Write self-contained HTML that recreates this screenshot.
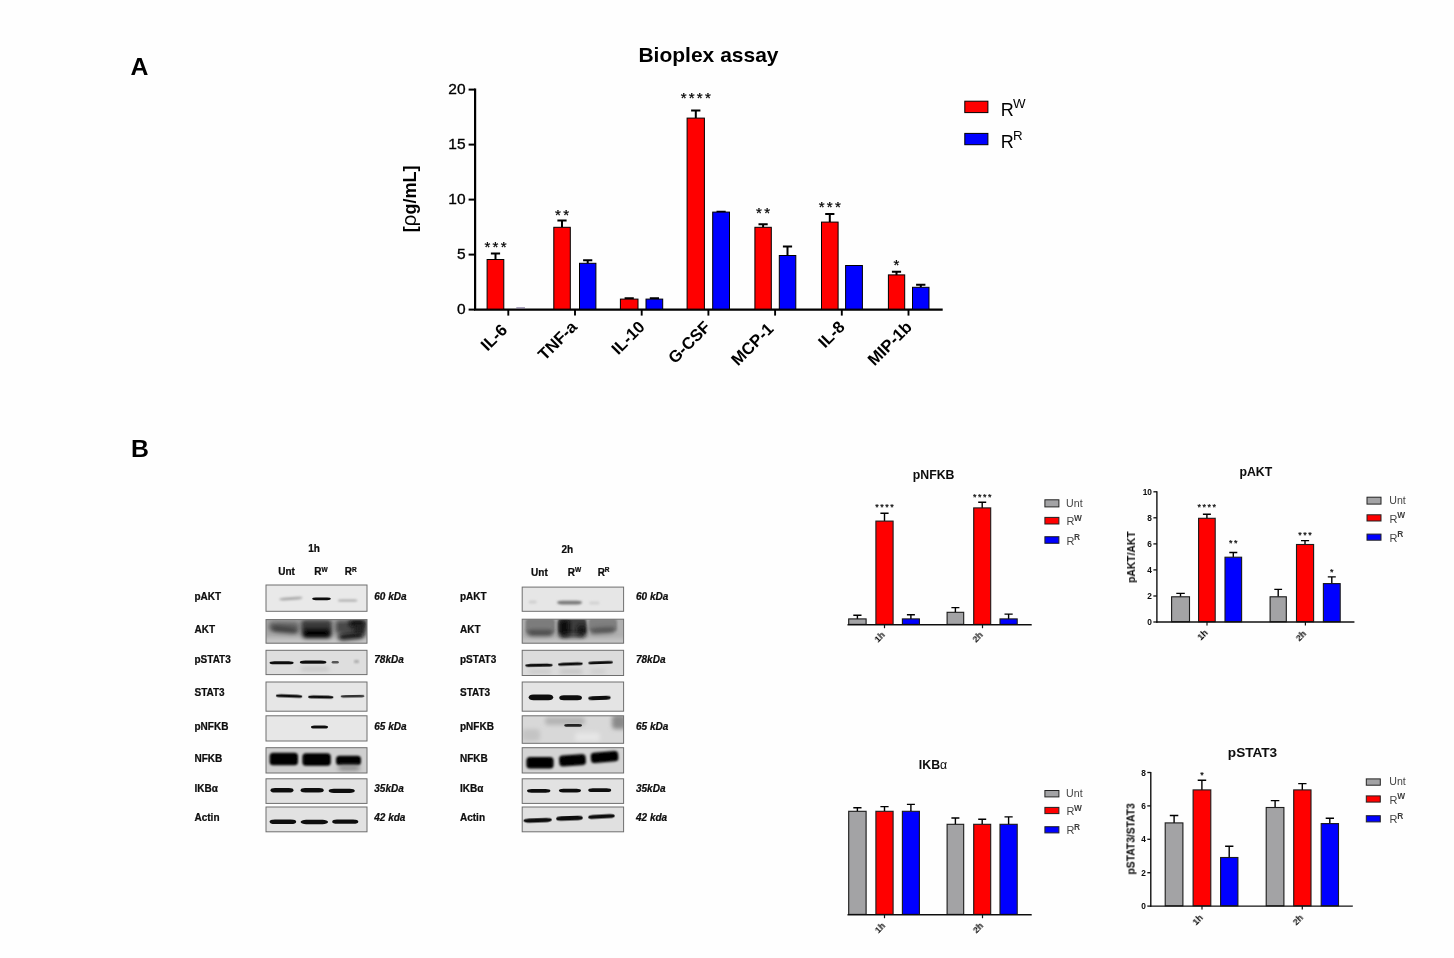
<!DOCTYPE html>
<html lang="en">
<head>
<meta charset="utf-8">
<title>Figure</title>
<style>
html,body{margin:0;padding:0;background:#fff;}
body{width:1454px;height:958px;overflow:hidden;font-family:'Liberation Sans', sans-serif;}
svg{display:block}
svg text{font-family:"Liberation Sans",sans-serif;}
</style>
</head>
<body>
<svg width="1454" height="958" viewBox="0 0 1454 958">
<rect width="1454" height="958" fill="#fefefe"/>
<defs><filter id="sa" x="-2%" y="-2%" width="104%" height="104%"><feGaussianBlur stdDeviation="0.4"/></filter><filter id="sb" x="-2%" y="-2%" width="104%" height="104%"><feGaussianBlur stdDeviation="0.35"/></filter></defs>
<g id="panelA" filter="url(#sa)">
<text x="130.6" y="75.0" font-size="24.8" font-weight="bold" text-anchor="start" fill="#000">A</text>
<text x="708.5" y="61.6" font-size="21" font-weight="bold" text-anchor="middle" fill="#000">Bioplex assay</text>
<path d="M475.1 88.5V310.70000000000005M474.1 309.6H942.7" stroke="#000" stroke-width="2.2" fill="none"/>
<path d="M468.6 309.6H475.1" stroke="#000" stroke-width="2"/>
<text x="465.6" y="313.8" font-size="15.5" font-weight="normal" text-anchor="end" fill="#000" stroke="#000" stroke-width="0.35">0</text>
<path d="M468.6 254.60000000000002H475.1" stroke="#000" stroke-width="2"/>
<text x="465.6" y="258.8" font-size="15.5" font-weight="normal" text-anchor="end" fill="#000" stroke="#000" stroke-width="0.35">5</text>
<path d="M468.6 199.60000000000002H475.1" stroke="#000" stroke-width="2"/>
<text x="465.6" y="203.8" font-size="15.5" font-weight="normal" text-anchor="end" fill="#000" stroke="#000" stroke-width="0.35">10</text>
<path d="M468.6 144.60000000000002H475.1" stroke="#000" stroke-width="2"/>
<text x="465.6" y="148.8" font-size="15.5" font-weight="normal" text-anchor="end" fill="#000" stroke="#000" stroke-width="0.35">15</text>
<path d="M468.6 89.60000000000002H475.1" stroke="#000" stroke-width="2"/>
<text x="465.6" y="93.8" font-size="15.5" font-weight="normal" text-anchor="end" fill="#000" stroke="#000" stroke-width="0.35">20</text>
<text x="416.4" y="198.8" font-size="18" font-weight="bold" text-anchor="middle" fill="#000" transform="rotate(-90 416.4 198.8)">[<tspan font-weight="normal" font-size="20.5">ρ</tspan>g/mL]</text>
<path d="M508.3 309.6V315.6" stroke="#000" stroke-width="1.9"/>
<path d="M495.5 259.5V253.5M490.9 253.5H500.1" stroke="#000" stroke-width="2.0" fill="none"/><rect x="487.1" y="259.5" width="16.7" height="49.6" fill="#ff0000" stroke="#000" stroke-width="1.0"/>
<path d="M516.3 307.9H525.0" stroke="#6a5a8a" stroke-width="0.9"/>
<text x="484.5" y="252.1" font-size="15" letter-spacing="2.24" stroke="#000" stroke-width="0.25">***</text>
<text x="508.3" y="331.0" font-size="16.6" font-weight="bold" text-anchor="end" fill="#000" transform="rotate(-45 508.3 331.0)">IL-6</text>
<path d="M575.0 309.6V315.6" stroke="#000" stroke-width="1.9"/>
<path d="M562.0 227.3V220.5M557.4 220.5H566.6" stroke="#000" stroke-width="2.0" fill="none"/><rect x="553.8" y="227.3" width="16.5" height="81.8" fill="#ff0000" stroke="#000" stroke-width="1.0"/>
<path d="M587.7 263.3V260.2M583.1 260.2H592.3" stroke="#000" stroke-width="2.0" fill="none"/><rect x="579.5" y="263.3" width="16.4" height="45.8" fill="#0000ff" stroke="#000" stroke-width="1.0"/>
<text x="555.1" y="219.8" font-size="15" letter-spacing="2.24" stroke="#000" stroke-width="0.25">**</text>
<text x="578.0" y="328.0" font-size="16.6" font-weight="bold" text-anchor="end" fill="#000" transform="rotate(-45 578.0 328.0)">TNF-a</text>
<path d="M641.7 309.6V315.6" stroke="#000" stroke-width="1.9"/>
<path d="M629.2 299.1V298.3M624.6 298.3H633.8" stroke="#000" stroke-width="2.0" fill="none"/><rect x="620.4" y="299.1" width="17.6" height="10.0" fill="#ff0000" stroke="#000" stroke-width="1.0"/>
<path d="M654.4 299.1V298.3M649.8 298.3H659.0" stroke="#000" stroke-width="2.0" fill="none"/><rect x="646.0" y="299.1" width="16.7" height="10.0" fill="#0000ff" stroke="#000" stroke-width="1.0"/>
<text x="645.7" y="328.0" font-size="16.6" font-weight="bold" text-anchor="end" fill="#000" transform="rotate(-45 645.7 328.0)">IL-10</text>
<path d="M708.4 309.6V315.6" stroke="#000" stroke-width="1.9"/>
<path d="M695.8 118.1V110.5M691.1 110.5H700.4" stroke="#000" stroke-width="2.0" fill="none"/><rect x="687.1" y="118.1" width="17.3" height="191.0" fill="#ff0000" stroke="#000" stroke-width="1.0"/>
<path d="M721.1 212.1V211.8M716.5 211.8H725.7" stroke="#000" stroke-width="2.0" fill="none"/><rect x="712.7" y="212.1" width="16.8" height="97.0" fill="#0000ff" stroke="#000" stroke-width="1.0"/>
<text x="680.7" y="103.2" font-size="15" letter-spacing="2.24" stroke="#000" stroke-width="0.25">****</text>
<text x="711.4" y="328.0" font-size="16.6" font-weight="bold" text-anchor="end" fill="#000" transform="rotate(-45 711.4 328.0)">G-CSF</text>
<path d="M775.1 309.6V315.6" stroke="#000" stroke-width="1.9"/>
<path d="M763.1 227.3V224.3M758.5 224.3H767.7" stroke="#000" stroke-width="2.0" fill="none"/><rect x="754.9" y="227.3" width="16.4" height="81.8" fill="#ff0000" stroke="#000" stroke-width="1.0"/>
<path d="M787.5 255.5V246.4M782.9 246.4H792.1" stroke="#000" stroke-width="2.0" fill="none"/><rect x="779.3" y="255.5" width="16.5" height="53.6" fill="#0000ff" stroke="#000" stroke-width="1.0"/>
<text x="756.1" y="217.7" font-size="15" letter-spacing="2.24" stroke="#000" stroke-width="0.25">**</text>
<text x="774.6" y="330.0" font-size="16.6" font-weight="bold" text-anchor="end" fill="#000" transform="rotate(-45 774.6 330.0)">MCP-1</text>
<path d="M841.8 309.6V315.6" stroke="#000" stroke-width="1.9"/>
<path d="M829.8 222.1V214.0M825.2 214.0H834.4" stroke="#000" stroke-width="2.0" fill="none"/><rect x="821.5" y="222.1" width="16.6" height="87.0" fill="#ff0000" stroke="#000" stroke-width="1.0"/>
<rect x="845.6" y="265.5" width="16.8" height="43.6" fill="#0000ff" stroke="#000" stroke-width="1.0"/>
<text x="818.8" y="211.8" font-size="15" letter-spacing="2.24" stroke="#000" stroke-width="0.25">***</text>
<text x="845.8" y="328.0" font-size="16.6" font-weight="bold" text-anchor="end" fill="#000" transform="rotate(-45 845.8 328.0)">IL-8</text>
<path d="M908.5 309.6V315.6" stroke="#000" stroke-width="1.9"/>
<path d="M896.5 274.9V271.8M891.9 271.8H901.1" stroke="#000" stroke-width="2.0" fill="none"/><rect x="888.4" y="274.9" width="16.3" height="34.2" fill="#ff0000" stroke="#000" stroke-width="1.0"/>
<path d="M920.8 287.3V284.8M916.1 284.8H925.4" stroke="#000" stroke-width="2.0" fill="none"/><rect x="912.5" y="287.3" width="16.5" height="21.8" fill="#0000ff" stroke="#000" stroke-width="1.0"/>
<text x="893.6" y="270.2" font-size="15" letter-spacing="2.24" stroke="#000" stroke-width="0.25">*</text>
<text x="913.0" y="328.0" font-size="16.6" font-weight="bold" text-anchor="end" fill="#000" transform="rotate(-45 913.0 328.0)">MIP-1b</text>
<rect x="964.8" y="101.2" width="23.1" height="11.4" fill="#ff0000" stroke="#000" stroke-width="1"/>
<rect x="964.8" y="133.4" width="23.1" height="11.3" fill="#0000ff" stroke="#000" stroke-width="1"/>
<text x="1000.8" y="116.1" font-size="18">R<tspan font-size="13.3" dy="-8.0" dx="-0.8">W</tspan></text>
<text x="1000.8" y="148.4" font-size="18">R<tspan font-size="13.3" dy="-8.4" dx="-0.8">R</tspan></text>
</g>
<defs>
<filter id="b1" x="-20%" y="-200%" width="140%" height="500%"><feGaussianBlur stdDeviation="0.7"/></filter>
<filter id="b2" x="-20%" y="-200%" width="140%" height="500%"><feGaussianBlur stdDeviation="1.2"/></filter>
<filter id="b3" x="-30%" y="-200%" width="160%" height="500%"><feGaussianBlur stdDeviation="2.2"/></filter>
<filter id="tb" x="-5%" y="-20%" width="110%" height="140%"><feGaussianBlur stdDeviation="0.12"/></filter>
</defs>
<g id="panelB" filter="url(#sb)">
<text x="130.9" y="457.0" font-size="24.8" font-weight="bold" text-anchor="start" fill="#000">B</text>
<clipPath id="c1"><rect x="266.0" y="585.0" width="101.0" height="26.3"/></clipPath><rect x="266.0" y="585.0" width="101.0" height="26.3" fill="#e9e9e9"/><g clip-path="url(#c1)"><rect x="279.4" y="597.5" width="23.0" height="2.2" rx="4.6" ry="1.10" fill="#9a9a9a" filter="url(#b2)" transform="rotate(-4 290.9 598.6)"/><rect x="312.2" y="597.4" width="18.6" height="2.8" rx="3.7" ry="1.40" fill="#0a0a0a" filter="url(#b1)"/><rect x="337.9" y="599.6" width="19.5" height="2.0" rx="3.9" ry="1.00" fill="#a8a8a8" filter="url(#b2)"/></g><rect x="266.0" y="585.0" width="101.0" height="26.3" fill="none" stroke="#6e6e6e" stroke-width="1"/>
<clipPath id="c2"><rect x="266.0" y="619.6" width="101.0" height="23.6"/></clipPath><rect x="266.0" y="619.6" width="101.0" height="23.6" fill="#a6a6a6"/><g clip-path="url(#c2)"><rect x="264" y="637.5" width="106" height="8" fill="#c6c6c6" filter="url(#b3)"/><rect x="269.0" y="621.5" width="30.0" height="9.0" rx="3.5" fill="#6a6a6a" filter="url(#b3)"/><rect x="271.0" y="626.5" width="27.5" height="6.0" rx="5.5" ry="3.00" fill="#3c3c3c" filter="url(#b3)" transform="rotate(6 284.8 629.5)"/><rect x="301.0" y="620.0" width="31.0" height="12.0" rx="3.5" fill="#3a3a3a" filter="url(#b3)"/><rect x="302.5" y="629.0" width="28.5" height="9.0" rx="3.5" fill="#050505" filter="url(#b3)"/><rect x="335.5" y="620.5" width="30.5" height="13.0" rx="3.5" fill="#4a4a4a" filter="url(#b3)"/><rect x="338.0" y="632.8" width="26.0" height="6.5" rx="5.2" ry="3.25" fill="#0a0a0a" filter="url(#b3)" transform="rotate(-6 351.0 636.0)"/><rect x="349.0" y="620.0" width="16.0" height="7.0" rx="3.5" fill="#0a0a0a" filter="url(#b3)"/><rect x="354.0" y="624.0" width="10.0" height="10.0" rx="3.5" fill="#222" filter="url(#b3)"/></g><rect x="266.0" y="619.6" width="101.0" height="23.6" fill="none" stroke="#6e6e6e" stroke-width="1"/>
<clipPath id="c3"><rect x="266.0" y="650.3" width="101.0" height="24.3"/></clipPath><rect x="266.0" y="650.3" width="101.0" height="24.3" fill="#dedede"/><g clip-path="url(#c3)"><rect x="269.6" y="661.2" width="24.0" height="3.0" rx="4.8" ry="1.50" fill="#111" filter="url(#b1)"/><rect x="299.8" y="660.6" width="26.6" height="3.2" rx="5.3" ry="1.60" fill="#111" filter="url(#b1)"/><rect x="331.7" y="661.0" width="7.1" height="2.4" rx="1.4" ry="1.20" fill="#555" filter="url(#b1)"/><rect x="354.0" y="660.0" width="5.0" height="3.0" rx="1.0" ry="1.50" fill="#aaa" filter="url(#b2)"/><rect x="300.0" y="667.0" width="30.0" height="4.0" rx="6.0" ry="2.00" fill="#c4c4c4" filter="url(#b3)"/></g><rect x="266.0" y="650.3" width="101.0" height="24.3" fill="none" stroke="#6e6e6e" stroke-width="1"/>
<clipPath id="c4"><rect x="266.0" y="682.0" width="101.0" height="29.2"/></clipPath><rect x="266.0" y="682.0" width="101.0" height="29.2" fill="#e6e6e6"/><g clip-path="url(#c4)"><rect x="275.8" y="694.4" width="26.6" height="3.2" rx="5.3" ry="1.60" fill="#111" filter="url(#b1)" transform="rotate(2 289.1 696.0)"/><rect x="308.0" y="695.4" width="25.5" height="3.2" rx="5.1" ry="1.60" fill="#111" filter="url(#b1)" transform="rotate(1 320.8 697.0)"/><rect x="340.6" y="695.1" width="23.9" height="2.4" rx="4.8" ry="1.20" fill="#333" filter="url(#b1)" transform="rotate(-1 352.6 696.3)"/></g><rect x="266.0" y="682.0" width="101.0" height="29.2" fill="none" stroke="#6e6e6e" stroke-width="1"/>
<clipPath id="c5"><rect x="266.0" y="715.8" width="101.0" height="25.2"/></clipPath><rect x="266.0" y="715.8" width="101.0" height="25.2" fill="#e7e7e7"/><g clip-path="url(#c5)"><rect x="311.0" y="725.5" width="17.0" height="3.0" rx="3.4" ry="1.50" fill="#111" filter="url(#b1)"/></g><rect x="266.0" y="715.8" width="101.0" height="25.2" fill="none" stroke="#6e6e6e" stroke-width="1"/>
<clipPath id="c6"><rect x="266.0" y="747.7" width="101.0" height="25.3"/></clipPath><rect x="266.0" y="747.7" width="101.0" height="25.3" fill="#cfcfcf"/><g clip-path="url(#c6)"><rect x="269.6" y="752.8" width="28.4" height="12.5" rx="3.5" fill="#000" filter="url(#b2)"/><rect x="302.4" y="753.2" width="28.4" height="12.5" rx="3.5" fill="#000" filter="url(#b2)"/><rect x="336.0" y="755.8" width="25.0" height="9.5" rx="3.5" fill="#000" filter="url(#b2)"/><rect x="338.0" y="765.5" width="22.0" height="5.0" rx="4.4" ry="2.50" fill="#888" filter="url(#b3)"/></g><rect x="266.0" y="747.7" width="101.0" height="25.3" fill="none" stroke="#6e6e6e" stroke-width="1"/>
<clipPath id="c7"><rect x="266.0" y="778.8" width="101.0" height="24.6"/></clipPath><rect x="266.0" y="778.8" width="101.0" height="24.6" fill="#e2e2e2"/><g clip-path="url(#c7)"><rect x="270.5" y="788.0" width="23.0" height="4.6" rx="4.6" ry="2.30" fill="#111" filter="url(#b1)"/><rect x="300.6" y="788.1" width="23.1" height="4.4" rx="4.6" ry="2.20" fill="#111" filter="url(#b1)"/><rect x="328.7" y="788.7" width="26.1" height="4.2" rx="5.2" ry="2.10" fill="#111" filter="url(#b1)"/></g><rect x="266.0" y="778.8" width="101.0" height="24.6" fill="none" stroke="#6e6e6e" stroke-width="1"/>
<clipPath id="c8"><rect x="266.0" y="807.0" width="101.0" height="24.8"/></clipPath><rect x="266.0" y="807.0" width="101.0" height="24.8" fill="#e2e2e2"/><g clip-path="url(#c8)"><rect x="269.6" y="819.4" width="26.6" height="4.6" rx="5.3" ry="2.30" fill="#111" filter="url(#b1)"/><rect x="300.6" y="819.8" width="27.5" height="4.4" rx="5.5" ry="2.20" fill="#111" filter="url(#b1)"/><rect x="332.2" y="819.6" width="26.1" height="4.2" rx="5.2" ry="2.10" fill="#111" filter="url(#b1)"/></g><rect x="266.0" y="807.0" width="101.0" height="24.8" fill="none" stroke="#6e6e6e" stroke-width="1"/>
<clipPath id="c9"><rect x="522.2" y="587.1" width="101.4" height="24.2"/></clipPath><rect x="522.2" y="587.1" width="101.4" height="24.2" fill="#e6e6e6"/><g clip-path="url(#c9)"><rect x="528.7" y="600.5" width="8.0" height="3.0" rx="1.6" ry="1.50" fill="#cfcfcf" filter="url(#b2)"/><rect x="557.1" y="600.8" width="24.9" height="3.6" rx="5.0" ry="1.80" fill="#777" filter="url(#b2)"/><rect x="589.0" y="601.5" width="10.7" height="3.0" rx="2.1" ry="1.50" fill="#d2d2d2" filter="url(#b2)"/></g><rect x="522.2" y="587.1" width="101.4" height="24.2" fill="none" stroke="#6e6e6e" stroke-width="1"/>
<clipPath id="c10"><rect x="522.2" y="619.2" width="101.4" height="24.0"/></clipPath><rect x="522.2" y="619.2" width="101.4" height="24.0" fill="#b0b0b0"/><g clip-path="url(#c10)"><rect x="520" y="638.5" width="106" height="7" fill="#c6c6c6" filter="url(#b3)"/><rect x="525.5" y="618.5" width="29.5" height="15.0" rx="3.5" fill="#7c7c7c" filter="url(#b2)"/><rect x="527.0" y="630.0" width="26.5" height="6.0" rx="5.3" ry="3.00" fill="#484848" filter="url(#b3)"/><rect x="558.5" y="618.5" width="28.0" height="15.0" rx="3.5" fill="#3c3c3c" filter="url(#b2)"/><rect x="559.0" y="619.5" width="10.5" height="17.0" rx="3.5" fill="#0a0a0a" filter="url(#b3)"/><rect x="577.5" y="625.0" width="8.5" height="11.0" rx="3.5" fill="#161616" filter="url(#b3)"/><rect x="560.0" y="633.0" width="25.0" height="4.0" rx="5.0" ry="2.00" fill="#1a1a1a" filter="url(#b3)"/><rect x="588.5" y="618.5" width="28.5" height="13.0" rx="3.5" fill="#808080" filter="url(#b2)"/><rect x="590.0" y="627.8" width="25.0" height="5.5" rx="5.0" ry="2.75" fill="#505050" filter="url(#b3)" transform="rotate(-4 602.5 630.5)"/></g><rect x="522.2" y="619.2" width="101.4" height="24.0" fill="none" stroke="#6e6e6e" stroke-width="1"/>
<clipPath id="c11"><rect x="522.2" y="650.3" width="101.4" height="25.2"/></clipPath><rect x="522.2" y="650.3" width="101.4" height="25.2" fill="#dcdcdc"/><g clip-path="url(#c11)"><rect x="525.2" y="663.7" width="27.5" height="3.0" rx="5.5" ry="1.50" fill="#111" filter="url(#b1)" transform="rotate(-1 539.0 665.2)"/><rect x="558.0" y="662.5" width="24.8" height="3.0" rx="5.0" ry="1.50" fill="#111" filter="url(#b1)" transform="rotate(-2 570.4 664.0)"/><rect x="588.2" y="661.3" width="24.8" height="2.8" rx="5.0" ry="1.40" fill="#111" filter="url(#b1)" transform="rotate(-2 600.6 662.7)"/><rect x="528.0" y="670.0" width="24.0" height="3.0" rx="4.8" ry="1.50" fill="#c2c2c2" filter="url(#b3)"/><rect x="559.0" y="669.8" width="24.0" height="3.5" rx="4.8" ry="1.75" fill="#bcbcbc" filter="url(#b3)"/><rect x="590.0" y="670.0" width="16.0" height="3.0" rx="3.2" ry="1.50" fill="#c6c6c6" filter="url(#b3)"/></g><rect x="522.2" y="650.3" width="101.4" height="25.2" fill="none" stroke="#6e6e6e" stroke-width="1"/>
<clipPath id="c12"><rect x="522.2" y="682.0" width="101.4" height="29.2"/></clipPath><rect x="522.2" y="682.0" width="101.4" height="29.2" fill="#e4e4e4"/><g clip-path="url(#c12)"><rect x="528.7" y="694.4" width="24.5" height="5.8" rx="4.9" ry="2.90" fill="#111" filter="url(#b1)"/><rect x="559.2" y="695.3" width="22.8" height="5.0" rx="4.6" ry="2.50" fill="#111" filter="url(#b1)"/><rect x="588.2" y="696.1" width="22.5" height="3.8" rx="4.5" ry="1.90" fill="#111" filter="url(#b1)" transform="rotate(-2 599.5 698.0)"/></g><rect x="522.2" y="682.0" width="101.4" height="29.2" fill="none" stroke="#6e6e6e" stroke-width="1"/>
<clipPath id="c13"><rect x="522.2" y="715.8" width="101.4" height="27.5"/></clipPath><rect x="522.2" y="715.8" width="101.4" height="27.5" fill="#d8d8d8"/><g clip-path="url(#c13)"><rect x="545.0" y="717.0" width="40.0" height="8.0" rx="3.5" fill="#b4b4b4" filter="url(#b3)"/><rect x="612.0" y="715.0" width="14.0" height="14.0" rx="3.5" fill="#8a8a8a" filter="url(#b3)"/><rect x="575.0" y="732.5" width="25.0" height="9.0" rx="3.5" fill="#e6e6e6" filter="url(#b3)"/><rect x="522.0" y="729.0" width="18.0" height="12.0" rx="3.5" fill="#c4c4c4" filter="url(#b3)"/><rect x="564.2" y="724.0" width="17.8" height="2.8" rx="3.6" ry="1.40" fill="#222" filter="url(#b1)"/></g><rect x="522.2" y="715.8" width="101.4" height="27.5" fill="none" stroke="#6e6e6e" stroke-width="1"/>
<clipPath id="c14"><rect x="522.2" y="747.7" width="101.4" height="25.3"/></clipPath><rect x="522.2" y="747.7" width="101.4" height="25.3" fill="#d4d4d4"/><g clip-path="url(#c14)"><rect x="526.4" y="757.0" width="27.2" height="11.5" rx="3.5" fill="#000" filter="url(#b2)"/><rect x="559.2" y="754.8" width="26.6" height="11.0" rx="3.5" fill="#000" filter="url(#b2)" transform="rotate(-4 572.5 760.3)"/><rect x="590.8" y="751.8" width="27.5" height="10.5" rx="3.5" fill="#000" filter="url(#b2)" transform="rotate(-5 604.5 757.0)"/></g><rect x="522.2" y="747.7" width="101.4" height="25.3" fill="none" stroke="#6e6e6e" stroke-width="1"/>
<clipPath id="c15"><rect x="522.2" y="778.8" width="101.4" height="24.6"/></clipPath><rect x="522.2" y="778.8" width="101.4" height="24.6" fill="#e2e2e2"/><g clip-path="url(#c15)"><rect x="527.0" y="788.9" width="23.4" height="3.8" rx="4.7" ry="1.90" fill="#111" filter="url(#b1)"/><rect x="558.9" y="788.7" width="22.1" height="3.8" rx="4.4" ry="1.90" fill="#111" filter="url(#b1)"/><rect x="588.2" y="788.3" width="23.0" height="3.8" rx="4.6" ry="1.90" fill="#111" filter="url(#b1)"/></g><rect x="522.2" y="778.8" width="101.4" height="24.6" fill="none" stroke="#6e6e6e" stroke-width="1"/>
<clipPath id="c16"><rect x="522.2" y="807.0" width="101.4" height="24.8"/></clipPath><rect x="522.2" y="807.0" width="101.4" height="24.8" fill="#e0e0e0"/><g clip-path="url(#c16)"><rect x="523.4" y="818.2" width="28.6" height="4.2" rx="5.7" ry="2.10" fill="#111" filter="url(#b1)" transform="rotate(-2 537.7 820.3)"/><rect x="556.2" y="816.0" width="26.6" height="4.4" rx="5.3" ry="2.20" fill="#111" filter="url(#b1)" transform="rotate(-2 569.5 818.2)"/><rect x="588.2" y="814.6" width="26.6" height="4.0" rx="5.3" ry="2.00" fill="#111" filter="url(#b1)" transform="rotate(-3 601.5 816.6)"/></g><rect x="522.2" y="807.0" width="101.4" height="24.8" fill="none" stroke="#6e6e6e" stroke-width="1"/>
<text x="194.5" y="600.1" font-size="10" font-weight="bold" text-anchor="start" fill="#0a0a0a" stroke="#0a0a0a" stroke-width="0.2">pAKT</text>
<text x="460.0" y="600.1" font-size="10" font-weight="bold" text-anchor="start" fill="#0a0a0a" stroke="#0a0a0a" stroke-width="0.2">pAKT</text>
<text x="374.3" y="600.1" font-size="10" font-weight="bold" text-anchor="start" fill="#0a0a0a" font-style="italic" stroke="#0a0a0a" stroke-width="0.2">60 kDa</text>
<text x="636.0" y="600.1" font-size="10" font-weight="bold" text-anchor="start" fill="#0a0a0a" font-style="italic" stroke="#0a0a0a" stroke-width="0.2">60 kDa</text>
<text x="194.5" y="633.2" font-size="10" font-weight="bold" text-anchor="start" fill="#0a0a0a" stroke="#0a0a0a" stroke-width="0.2">AKT</text>
<text x="460.0" y="633.2" font-size="10" font-weight="bold" text-anchor="start" fill="#0a0a0a" stroke="#0a0a0a" stroke-width="0.2">AKT</text>
<text x="194.5" y="663.1" font-size="10" font-weight="bold" text-anchor="start" fill="#0a0a0a" stroke="#0a0a0a" stroke-width="0.2">pSTAT3</text>
<text x="460.0" y="663.1" font-size="10" font-weight="bold" text-anchor="start" fill="#0a0a0a" stroke="#0a0a0a" stroke-width="0.2">pSTAT3</text>
<text x="374.3" y="663.1" font-size="10" font-weight="bold" text-anchor="start" fill="#0a0a0a" font-style="italic" stroke="#0a0a0a" stroke-width="0.2">78kDa</text>
<text x="636.0" y="663.1" font-size="10" font-weight="bold" text-anchor="start" fill="#0a0a0a" font-style="italic" stroke="#0a0a0a" stroke-width="0.2">78kDa</text>
<text x="194.5" y="695.8" font-size="10" font-weight="bold" text-anchor="start" fill="#0a0a0a" stroke="#0a0a0a" stroke-width="0.2">STAT3</text>
<text x="460.0" y="695.8" font-size="10" font-weight="bold" text-anchor="start" fill="#0a0a0a" stroke="#0a0a0a" stroke-width="0.2">STAT3</text>
<text x="194.5" y="730.0" font-size="10" font-weight="bold" text-anchor="start" fill="#0a0a0a" stroke="#0a0a0a" stroke-width="0.2">pNFKB</text>
<text x="460.0" y="730.0" font-size="10" font-weight="bold" text-anchor="start" fill="#0a0a0a" stroke="#0a0a0a" stroke-width="0.2">pNFKB</text>
<text x="374.3" y="730.0" font-size="10" font-weight="bold" text-anchor="start" fill="#0a0a0a" font-style="italic" stroke="#0a0a0a" stroke-width="0.2">65 kDa</text>
<text x="636.0" y="730.0" font-size="10" font-weight="bold" text-anchor="start" fill="#0a0a0a" font-style="italic" stroke="#0a0a0a" stroke-width="0.2">65 kDa</text>
<text x="194.5" y="761.8" font-size="10" font-weight="bold" text-anchor="start" fill="#0a0a0a" stroke="#0a0a0a" stroke-width="0.2">NFKB</text>
<text x="460.0" y="761.8" font-size="10" font-weight="bold" text-anchor="start" fill="#0a0a0a" stroke="#0a0a0a" stroke-width="0.2">NFKB</text>
<text x="194.5" y="792.1" font-size="10" font-weight="bold" text-anchor="start" fill="#0a0a0a" stroke="#0a0a0a" stroke-width="0.2">IKBα</text>
<text x="460.0" y="792.1" font-size="10" font-weight="bold" text-anchor="start" fill="#0a0a0a" stroke="#0a0a0a" stroke-width="0.2">IKBα</text>
<text x="374.3" y="792.1" font-size="10" font-weight="bold" text-anchor="start" fill="#0a0a0a" font-style="italic" stroke="#0a0a0a" stroke-width="0.2">35kDa</text>
<text x="636.0" y="792.1" font-size="10" font-weight="bold" text-anchor="start" fill="#0a0a0a" font-style="italic" stroke="#0a0a0a" stroke-width="0.2">35kDa</text>
<text x="194.5" y="820.9" font-size="10" font-weight="bold" text-anchor="start" fill="#0a0a0a" stroke="#0a0a0a" stroke-width="0.2">Actin</text>
<text x="460.0" y="820.9" font-size="10" font-weight="bold" text-anchor="start" fill="#0a0a0a" stroke="#0a0a0a" stroke-width="0.2">Actin</text>
<text x="374.3" y="820.9" font-size="10" font-weight="bold" text-anchor="start" fill="#0a0a0a" font-style="italic" stroke="#0a0a0a" stroke-width="0.2">42 kda</text>
<text x="636.0" y="820.9" font-size="10" font-weight="bold" text-anchor="start" fill="#0a0a0a" font-style="italic" stroke="#0a0a0a" stroke-width="0.2">42 kda</text>
<text x="314.0" y="552.2" font-size="10" font-weight="bold" text-anchor="middle" fill="#0a0a0a" stroke="#0a0a0a" stroke-width="0.2">1h</text>
<text x="567.4" y="552.8" font-size="10" font-weight="bold" text-anchor="middle" fill="#0a0a0a" stroke="#0a0a0a" stroke-width="0.2">2h</text>
<text x="286.5" y="575.3" font-size="10" font-weight="bold" text-anchor="middle" fill="#0a0a0a" stroke="#0a0a0a" stroke-width="0.2">Unt</text>
<text x="539.4" y="575.5" font-size="10" font-weight="bold" text-anchor="middle" fill="#0a0a0a" stroke="#0a0a0a" stroke-width="0.2">Unt</text>
<text x="321.0" y="575.3" font-size="10" font-weight="bold" text-anchor="middle" fill="#0a0a0a" stroke="#0a0a0a" stroke-width="0.2">R<tspan font-size="6.5" dy="-3.8">W</tspan></text>
<text x="350.7" y="575.3" font-size="10" font-weight="bold" text-anchor="middle" fill="#0a0a0a" stroke="#0a0a0a" stroke-width="0.2">R<tspan font-size="6.5" dy="-3.8">R</tspan></text>
<text x="574.5" y="575.5" font-size="10" font-weight="bold" text-anchor="middle" fill="#0a0a0a" stroke="#0a0a0a" stroke-width="0.2">R<tspan font-size="6.5" dy="-3.8">W</tspan></text>
<text x="603.6" y="575.5" font-size="10" font-weight="bold" text-anchor="middle" fill="#0a0a0a" stroke="#0a0a0a" stroke-width="0.2">R<tspan font-size="6.5" dy="-3.8">R</tspan></text>
<text x="933.6" y="478.9" font-size="12.3" font-weight="bold" text-anchor="middle" fill="#0a0a0a" filter="url(#tb)">pNFKB</text><path d="M857.4 618.9V615.2M853.3 615.2H861.5" stroke="#000" stroke-width="1.4" fill="none"/><rect x="848.7" y="618.9" width="17.4" height="5.5" fill="#a3a3a5" stroke="#1a1a1a" stroke-width="1.1"/><path d="M884.5 521.1V513.3M880.4 513.3H888.6" stroke="#000" stroke-width="1.4" fill="none"/><rect x="875.9" y="521.1" width="17.2" height="103.3" fill="#ff0000" stroke="#1a1a1a" stroke-width="1.1"/><text fill="#111" x="875.2" y="509.9" font-size="9" letter-spacing="1.50" stroke="#000" stroke-width="0.20">****</text><path d="M910.9 618.9V614.8M906.9 614.8H914.9" stroke="#000" stroke-width="1.4" fill="none"/><rect x="902.4" y="618.9" width="17.0" height="5.5" fill="#0000ff" stroke="#1a1a1a" stroke-width="1.1"/><path d="M955.4 612.3V607.6M951.4 607.6H959.4" stroke="#000" stroke-width="1.4" fill="none"/><rect x="947.1" y="612.3" width="16.6" height="12.1" fill="#a3a3a5" stroke="#1a1a1a" stroke-width="1.1"/><path d="M982.2 507.9V502.3M978.2 502.3H986.2" stroke="#000" stroke-width="1.4" fill="none"/><rect x="973.7" y="507.9" width="17.0" height="116.5" fill="#ff0000" stroke="#1a1a1a" stroke-width="1.1"/><text fill="#111" x="972.9" y="500.0" font-size="9" letter-spacing="1.50" stroke="#000" stroke-width="0.20">****</text><path d="M1008.6 618.9V614.1M1004.5 614.1H1012.7" stroke="#000" stroke-width="1.4" fill="none"/><rect x="1000.0" y="618.9" width="17.2" height="5.5" fill="#0000ff" stroke="#1a1a1a" stroke-width="1.1"/><path d="M847.5 624.7H1031.7" stroke="#111" stroke-width="1.4" fill="none"/><path d="M884.5 624.7V628.2" stroke="#111" stroke-width="1.2"/><text x="880.0" y="637.5" font-size="9" font-weight="bold" text-anchor="middle" fill="#0a0a0a" transform="rotate(-45 880.0 637.5)" filter="url(#tb)" dominant-baseline="central">1h</text><path d="M982.5 624.7V628.2" stroke="#111" stroke-width="1.2"/><text x="978.0" y="637.5" font-size="9" font-weight="bold" text-anchor="middle" fill="#0a0a0a" transform="rotate(-45 978.0 637.5)" filter="url(#tb)" dominant-baseline="central">2h</text><rect x="1044.9" y="499.8" width="14" height="7.1" fill="#a3a3a5" stroke="#222" stroke-width="1"/><text x="1066.1" y="506.8" font-size="10.6" font-weight="normal" text-anchor="start" fill="#454545" filter="url(#tb)">Unt</text><rect x="1044.9" y="517.4" width="14" height="6.6" fill="#ff0000" stroke="#222" stroke-width="1"/><text x="1066.4" y="525.3" font-size="11" fill="#454545" filter="url(#tb)">R<tspan font-size="8.3" font-weight="bold" fill="#3a3a3a" dy="-4.4" dx="-0.3">W</tspan></text><rect x="1044.9" y="536.7" width="14" height="6.6" fill="#0000ff" stroke="#222" stroke-width="1"/><text x="1066.4" y="544.6" font-size="11" fill="#454545" filter="url(#tb)">R<tspan font-size="8.3" font-weight="bold" fill="#3a3a3a" dy="-4.4" dx="-0.3">R</tspan></text>
<text x="1255.8" y="476.3" font-size="12.3" font-weight="bold" text-anchor="middle" fill="#0a0a0a" filter="url(#tb)">pAKT</text><path d="M1180.5 596.8V593.4M1176.3 593.4H1184.8" stroke="#000" stroke-width="1.4" fill="none"/><rect x="1171.6" y="596.8" width="17.9" height="24.9" fill="#a3a3a5" stroke="#1a1a1a" stroke-width="1.1"/><path d="M1206.9 518.3V514.2M1202.9 514.2H1210.9" stroke="#000" stroke-width="1.4" fill="none"/><rect x="1198.6" y="518.3" width="16.6" height="103.4" fill="#ff0000" stroke="#1a1a1a" stroke-width="1.1"/><text fill="#111" x="1197.6" y="510.1" font-size="9" letter-spacing="1.50" stroke="#000" stroke-width="0.20">****</text><path d="M1233.3 557.2V552.5M1229.3 552.5H1237.3" stroke="#000" stroke-width="1.4" fill="none"/><rect x="1225.0" y="557.2" width="16.6" height="64.5" fill="#0000ff" stroke="#1a1a1a" stroke-width="1.1"/><text fill="#111" x="1229.0" y="546.4" font-size="9" letter-spacing="1.50" stroke="#000" stroke-width="0.20">**</text><path d="M1278.2 596.8V589.4M1274.3 589.4H1282.1" stroke="#000" stroke-width="1.4" fill="none"/><rect x="1270.1" y="596.8" width="16.2" height="24.9" fill="#a3a3a5" stroke="#1a1a1a" stroke-width="1.1"/><path d="M1305.0 544.5V540.6M1301.0 540.6H1309.1" stroke="#000" stroke-width="1.4" fill="none"/><rect x="1296.5" y="544.5" width="17.1" height="77.2" fill="#ff0000" stroke="#1a1a1a" stroke-width="1.1"/><text fill="#111" x="1298.3" y="537.6" font-size="9" letter-spacing="1.50" stroke="#000" stroke-width="0.20">***</text><path d="M1331.8 583.6V576.9M1327.8 576.9H1335.8" stroke="#000" stroke-width="1.4" fill="none"/><rect x="1323.4" y="583.6" width="16.8" height="38.1" fill="#0000ff" stroke="#1a1a1a" stroke-width="1.1"/><text fill="#111" x="1330.0" y="575.0" font-size="9" letter-spacing="1.50" stroke="#000" stroke-width="0.20">*</text><path d="M1156.3 622.0H1354.4" stroke="#111" stroke-width="1.4" fill="none"/><path d="M1156.9 491.2V622.7" stroke="#111" stroke-width="1.4" fill="none"/><path d="M1153.4 622.0H1156.9" stroke="#111" stroke-width="1.3"/><text x="1151.9" y="625.0" font-size="8.3" font-weight="bold" text-anchor="end" fill="#0a0a0a" filter="url(#tb)">0</text><path d="M1153.4 596.0H1156.9" stroke="#111" stroke-width="1.3"/><text x="1151.9" y="599.0" font-size="8.3" font-weight="bold" text-anchor="end" fill="#0a0a0a" filter="url(#tb)">2</text><path d="M1153.4 569.9H1156.9" stroke="#111" stroke-width="1.3"/><text x="1151.9" y="572.9" font-size="8.3" font-weight="bold" text-anchor="end" fill="#0a0a0a" filter="url(#tb)">4</text><path d="M1153.4 543.9H1156.9" stroke="#111" stroke-width="1.3"/><text x="1151.9" y="546.9" font-size="8.3" font-weight="bold" text-anchor="end" fill="#0a0a0a" filter="url(#tb)">6</text><path d="M1153.4 517.8H1156.9" stroke="#111" stroke-width="1.3"/><text x="1151.9" y="520.8" font-size="8.3" font-weight="bold" text-anchor="end" fill="#0a0a0a" filter="url(#tb)">8</text><path d="M1153.4 491.8H1156.9" stroke="#111" stroke-width="1.3"/><text x="1151.9" y="494.8" font-size="8.3" font-weight="bold" text-anchor="end" fill="#0a0a0a" filter="url(#tb)">10</text><path d="M1207.0 622.0V625.5" stroke="#111" stroke-width="1.2"/><text x="1202.5" y="634.9" font-size="9" font-weight="bold" text-anchor="middle" fill="#0a0a0a" transform="rotate(-45 1202.5 634.9)" filter="url(#tb)" dominant-baseline="central">1h</text><path d="M1305.4 622.0V625.5" stroke="#111" stroke-width="1.2"/><text x="1300.9" y="636.0" font-size="9" font-weight="bold" text-anchor="middle" fill="#0a0a0a" transform="rotate(-45 1300.9 636.0)" filter="url(#tb)" dominant-baseline="central">2h</text><rect x="1367.0" y="497.2" width="14" height="6.9" fill="#a3a3a5" stroke="#222" stroke-width="1"/><text x="1389.3" y="504.0" font-size="10.6" font-weight="normal" text-anchor="start" fill="#454545" filter="url(#tb)">Unt</text><rect x="1367.0" y="514.8" width="14" height="6.2" fill="#ff0000" stroke="#222" stroke-width="1"/><text x="1389.6" y="522.5" font-size="11" fill="#454545" filter="url(#tb)">R<tspan font-size="8.3" font-weight="bold" fill="#3a3a3a" dy="-4.4" dx="-0.3">W</tspan></text><rect x="1367.0" y="534.1" width="14" height="6.1" fill="#0000ff" stroke="#222" stroke-width="1"/><text x="1389.6" y="541.8" font-size="11" fill="#454545" filter="url(#tb)">R<tspan font-size="8.3" font-weight="bold" fill="#3a3a3a" dy="-4.4" dx="-0.3">R</tspan></text><text x="1131.2" y="557.2" font-size="10.3" font-weight="bold" text-anchor="middle" fill="#0a0a0a" transform="rotate(-90 1131.2 557.2)" filter="url(#tb)" dominant-baseline="central">pAKT/AKT</text>
<text x="933.0" y="768.9" font-size="12.3" font-weight="bold" text-anchor="middle" fill="#0a0a0a" filter="url(#tb)">IKB<tspan font-weight="normal">α</tspan></text><path d="M857.4 811.3V807.7M853.3 807.7H861.5" stroke="#000" stroke-width="1.4" fill="none"/><rect x="848.7" y="811.3" width="17.4" height="103.1" fill="#a3a3a5" stroke="#1a1a1a" stroke-width="1.1"/><path d="M884.5 811.3V806.6M880.4 806.6H888.6" stroke="#000" stroke-width="1.4" fill="none"/><rect x="875.9" y="811.3" width="17.2" height="103.1" fill="#ff0000" stroke="#1a1a1a" stroke-width="1.1"/><path d="M910.9 811.3V804.4M906.9 804.4H914.9" stroke="#000" stroke-width="1.4" fill="none"/><rect x="902.4" y="811.3" width="17.0" height="103.1" fill="#0000ff" stroke="#1a1a1a" stroke-width="1.1"/><path d="M955.4 824.3V818.0M951.4 818.0H959.4" stroke="#000" stroke-width="1.4" fill="none"/><rect x="947.1" y="824.3" width="16.6" height="90.1" fill="#a3a3a5" stroke="#1a1a1a" stroke-width="1.1"/><path d="M982.2 824.3V819.3M978.2 819.3H986.2" stroke="#000" stroke-width="1.4" fill="none"/><rect x="973.7" y="824.3" width="17.0" height="90.1" fill="#ff0000" stroke="#1a1a1a" stroke-width="1.1"/><path d="M1008.6 824.3V816.9M1004.5 816.9H1012.7" stroke="#000" stroke-width="1.4" fill="none"/><rect x="1000.0" y="824.3" width="17.2" height="90.1" fill="#0000ff" stroke="#1a1a1a" stroke-width="1.1"/><path d="M847.5 914.7H1031.7" stroke="#111" stroke-width="1.4" fill="none"/><path d="M884.5 914.7V918.2" stroke="#111" stroke-width="1.2"/><text x="880.0" y="927.9" font-size="9" font-weight="bold" text-anchor="middle" fill="#0a0a0a" transform="rotate(-45 880.0 927.9)" filter="url(#tb)" dominant-baseline="central">1h</text><path d="M982.5 914.7V918.2" stroke="#111" stroke-width="1.2"/><text x="978.0" y="927.9" font-size="9" font-weight="bold" text-anchor="middle" fill="#0a0a0a" transform="rotate(-45 978.0 927.9)" filter="url(#tb)" dominant-baseline="central">2h</text><rect x="1044.9" y="790.5" width="14" height="6.4" fill="#a3a3a5" stroke="#222" stroke-width="1"/><text x="1066.1" y="797.1" font-size="10.6" font-weight="normal" text-anchor="start" fill="#454545" filter="url(#tb)">Unt</text><rect x="1044.9" y="807.4" width="14" height="6.2" fill="#ff0000" stroke="#222" stroke-width="1"/><text x="1066.4" y="815.1" font-size="11" fill="#454545" filter="url(#tb)">R<tspan font-size="8.3" font-weight="bold" fill="#3a3a3a" dy="-4.4" dx="-0.3">W</tspan></text><rect x="1044.9" y="826.7" width="14" height="6.2" fill="#0000ff" stroke="#222" stroke-width="1"/><text x="1066.4" y="834.4" font-size="11" fill="#454545" filter="url(#tb)">R<tspan font-size="8.3" font-weight="bold" fill="#3a3a3a" dy="-4.4" dx="-0.3">R</tspan></text>
<text x="1252.5" y="757.0" font-size="13.6" font-weight="bold" text-anchor="middle" fill="#0a0a0a" filter="url(#tb)">pSTAT3</text><path d="M1174.1 822.9V815.5M1169.8 815.5H1178.3" stroke="#000" stroke-width="1.4" fill="none"/><rect x="1165.2" y="822.9" width="17.7" height="82.9" fill="#a3a3a5" stroke="#1a1a1a" stroke-width="1.1"/><path d="M1201.9 789.9V780.3M1197.7 780.3H1206.2" stroke="#000" stroke-width="1.4" fill="none"/><rect x="1193.1" y="789.9" width="17.7" height="115.9" fill="#ff0000" stroke="#1a1a1a" stroke-width="1.1"/><text fill="#111" x="1200.2" y="778.0" font-size="9" letter-spacing="1.50" stroke="#000" stroke-width="0.20">*</text><path d="M1229.2 857.5V846.3M1225.1 846.3H1233.4" stroke="#000" stroke-width="1.4" fill="none"/><rect x="1220.6" y="857.5" width="17.3" height="48.3" fill="#0000ff" stroke="#1a1a1a" stroke-width="1.1"/><path d="M1275.1 807.5V800.6M1270.8 800.6H1279.3" stroke="#000" stroke-width="1.4" fill="none"/><rect x="1266.2" y="807.5" width="17.7" height="98.3" fill="#a3a3a5" stroke="#1a1a1a" stroke-width="1.1"/><path d="M1302.3 789.9V783.6M1298.2 783.6H1306.5" stroke="#000" stroke-width="1.4" fill="none"/><rect x="1293.7" y="789.9" width="17.3" height="115.9" fill="#ff0000" stroke="#1a1a1a" stroke-width="1.1"/><path d="M1329.8 823.6V818.2M1325.7 818.2H1334.0" stroke="#000" stroke-width="1.4" fill="none"/><rect x="1321.2" y="823.6" width="17.3" height="82.2" fill="#0000ff" stroke="#1a1a1a" stroke-width="1.1"/><path d="M1150.2 906.1H1352.8" stroke="#111" stroke-width="1.4" fill="none"/><path d="M1150.8 772.0V906.8000000000001" stroke="#111" stroke-width="1.4" fill="none"/><path d="M1147.3 906.1H1150.8" stroke="#111" stroke-width="1.3"/><text x="1145.8" y="909.1" font-size="8.3" font-weight="bold" text-anchor="end" fill="#0a0a0a" filter="url(#tb)">0</text><path d="M1147.3 872.7H1150.8" stroke="#111" stroke-width="1.3"/><text x="1145.8" y="875.7" font-size="8.3" font-weight="bold" text-anchor="end" fill="#0a0a0a" filter="url(#tb)">2</text><path d="M1147.3 839.3H1150.8" stroke="#111" stroke-width="1.3"/><text x="1145.8" y="842.3" font-size="8.3" font-weight="bold" text-anchor="end" fill="#0a0a0a" filter="url(#tb)">4</text><path d="M1147.3 805.9H1150.8" stroke="#111" stroke-width="1.3"/><text x="1145.8" y="808.9" font-size="8.3" font-weight="bold" text-anchor="end" fill="#0a0a0a" filter="url(#tb)">6</text><path d="M1147.3 772.5H1150.8" stroke="#111" stroke-width="1.3"/><text x="1145.8" y="775.5" font-size="8.3" font-weight="bold" text-anchor="end" fill="#0a0a0a" filter="url(#tb)">8</text><path d="M1202.0 906.1V909.6" stroke="#111" stroke-width="1.2"/><text x="1197.5" y="919.7" font-size="9" font-weight="bold" text-anchor="middle" fill="#0a0a0a" transform="rotate(-45 1197.5 919.7)" filter="url(#tb)" dominant-baseline="central">1h</text><path d="M1302.3 906.1V909.6" stroke="#111" stroke-width="1.2"/><text x="1297.8" y="919.7" font-size="9" font-weight="bold" text-anchor="middle" fill="#0a0a0a" transform="rotate(-45 1297.8 919.7)" filter="url(#tb)" dominant-baseline="central">2h</text><rect x="1366.3" y="778.9" width="14" height="6.3" fill="#a3a3a5" stroke="#222" stroke-width="1"/><text x="1389.3" y="785.4" font-size="10.6" font-weight="normal" text-anchor="start" fill="#454545" filter="url(#tb)">Unt</text><rect x="1366.3" y="795.9" width="14" height="6.2" fill="#ff0000" stroke="#222" stroke-width="1"/><text x="1389.6" y="803.6" font-size="11" fill="#454545" filter="url(#tb)">R<tspan font-size="8.3" font-weight="bold" fill="#3a3a3a" dy="-4.4" dx="-0.3">W</tspan></text><rect x="1366.3" y="815.7" width="14" height="6.2" fill="#0000ff" stroke="#222" stroke-width="1"/><text x="1389.6" y="823.4" font-size="11" fill="#454545" filter="url(#tb)">R<tspan font-size="8.3" font-weight="bold" fill="#3a3a3a" dy="-4.4" dx="-0.3">R</tspan></text><text x="1131.4" y="838.9" font-size="10.3" font-weight="bold" text-anchor="middle" fill="#0a0a0a" transform="rotate(-90 1131.4 838.9)" filter="url(#tb)" dominant-baseline="central">pSTAT3/STAT3</text>
</g>
</svg>
</body>
</html>
